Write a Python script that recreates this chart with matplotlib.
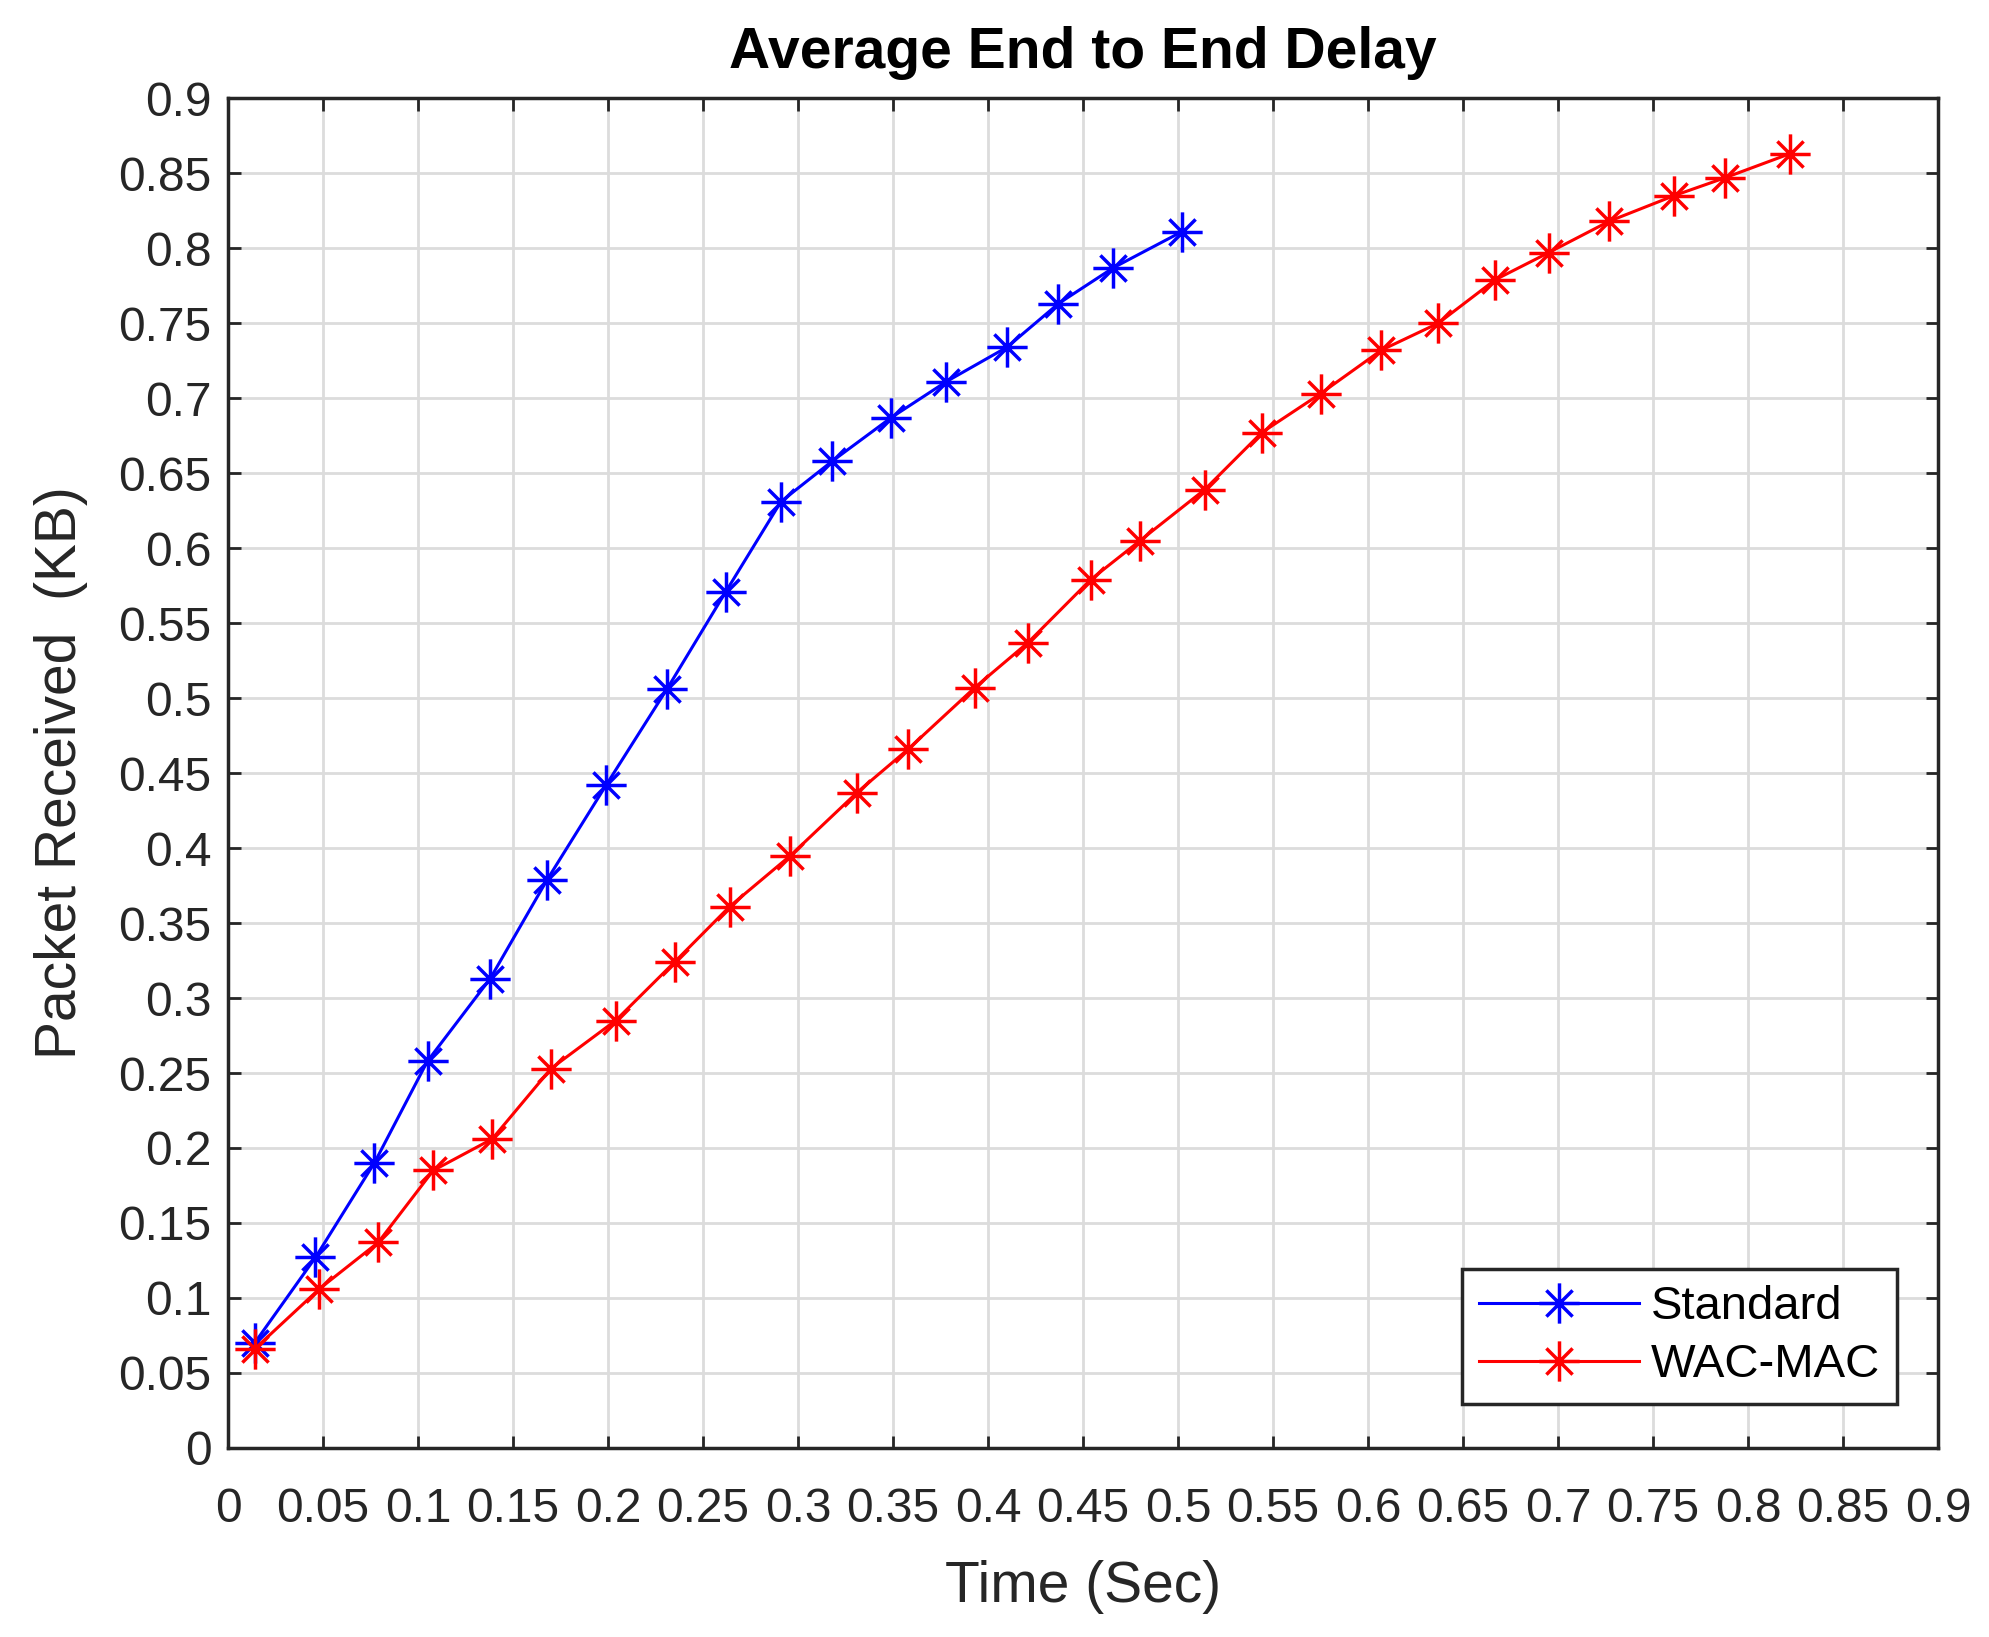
import numpy as np
import matplotlib
matplotlib.use("Agg")
import matplotlib.pyplot as plt
from matplotlib.path import Path

# values
std_time = [0.014, 0.046, 0.077, 0.105, 0.138, 0.168, 0.199, 0.231, 0.262,
            0.291, 0.318, 0.349, 0.378, 0.410, 0.437, 0.466, 0.502]
std_recv = [0.070, 0.127, 0.190, 0.258, 0.313, 0.379, 0.442, 0.506, 0.571,
            0.631, 0.658, 0.687, 0.711, 0.734, 0.763, 0.787, 0.811]

wac_time = [0.014, 0.048, 0.079, 0.108, 0.139, 0.170, 0.204, 0.235, 0.264,
            0.296, 0.331, 0.358, 0.393, 0.421, 0.454, 0.480, 0.514, 0.544,
            0.575, 0.607, 0.637, 0.667, 0.695, 0.727, 0.761, 0.788, 0.822]
wac_recv = [0.066, 0.106, 0.137, 0.185, 0.206, 0.253, 0.285, 0.324, 0.361,
            0.395, 0.437, 0.466, 0.507, 0.537, 0.579, 0.605, 0.639, 0.677,
            0.703, 0.732, 0.750, 0.779, 0.797, 0.818, 0.835, 0.847, 0.863]

ticks = np.round(np.arange(0, 0.9001, 0.05), 2)
tick_labels = ["0", "0.05", "0.1", "0.15", "0.2", "0.25", "0.3", "0.35", "0.4",
               "0.45", "0.5", "0.55", "0.6", "0.65", "0.7", "0.75", "0.8",
               "0.85", "0.9"]

plt.rcParams['font.family'] = ['Liberation Sans', 'DejaVu Sans']

# matlab style asterisk: plus + shorter diagonals
d = 0.65
star = Path(
    [(-1, 0), (1, 0), (0, -1), (0, 1), (-d, -d), (d, d), (-d, d), (d, -d)],
    [Path.MOVETO, Path.LINETO] * 4,
)

fig = plt.figure(figsize=(19.9, 16.37), dpi=100)
ax = fig.add_axes([0.1146, 0.1155, 0.8593, 0.8245])

ax.plot(std_time, std_recv, color=(0, 0, 1), lw=2.2, marker=star,
        markersize=29, mew=2.5, label="Standard")
ax.plot(wac_time, wac_recv, color=(1, 0, 0), lw=2.2, marker=star,
        markersize=29, mew=2.5, label="WAC-MAC")

ax.set_xlim(0, 0.9)
ax.set_ylim(0, 0.9)
ax.set_xticks(ticks)
ax.set_xticklabels(tick_labels)
ax.set_yticks(ticks)
ax.set_yticklabels(tick_labels)

ax.grid(True, color="#dcdcdc", lw=2)
ax.set_axisbelow(True)
for s in ax.spines.values():
    s.set_linewidth(2.5)
    s.set_color("#262626")

ax.tick_params(axis="both", direction="in", length=9, width=2,
               top=True, right=True, labelsize=34.5, colors="#262626")
ax.tick_params(axis="x", pad=28)
ax.tick_params(axis="y", pad=12)

ax.set_title("Average End to End Delay", fontsize=41, fontweight="bold",
             pad=22)
ax.set_xlabel("Time (Sec)", fontsize=41, color="#262626", labelpad=20)
ax.set_ylabel("Packet Received  (KB)", fontsize=41, color="#262626",
              labelpad=22)

leg = ax.legend(loc="lower right", bbox_to_anchor=(0.976, 0.0326),
                borderaxespad=0, fontsize=34, handlelength=3.4,
                handletextpad=0.25, labelspacing=0.3, borderpad=0.35,
                fancybox=False, framealpha=1, edgecolor="#262626")
leg.get_frame().set_linewidth(2.5)

fig.savefig("out.png", dpi=100)
